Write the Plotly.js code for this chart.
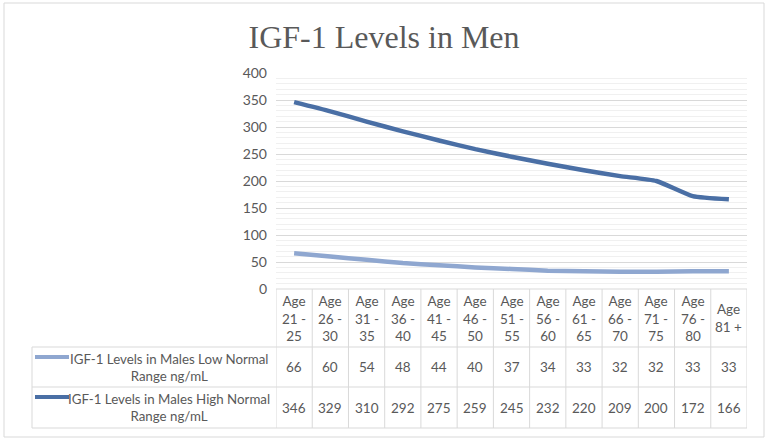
<!DOCTYPE html>
<html>
<head>
<meta charset="utf-8">
<script src="https://cdn.plot.ly/plotly-3.0.1.min.js"></script>
<style>
  html, body { margin: 0; padding: 0; background: #fff; }
  #chart { width: 768px; height: 442px; }
</style>
</head>
<body>
<div id="chart"></div>
<script>
const ageGroups = ['21 - 25', '26 - 30', '31 - 35', '36 - 40', '41 - 45', '46 - 50',
    '51 - 55', '56 - 60', '61 - 65', '66 - 70', '71 - 75', '76 - 80', '81 +'];
const headerLabels = ['Age<br>21 -<br>25', 'Age<br>26 -<br>30', 'Age<br>31 -<br>35', 'Age<br>36 -<br>40',
    'Age<br>41 -<br>45', 'Age<br>46 -<br>50', 'Age<br>51 -<br>55', 'Age<br>56 -<br>60',
    'Age<br>61 -<br>65', 'Age<br>66 -<br>70', 'Age<br>71 -<br>75', 'Age<br>76 -<br>80', 'Age<br>81 +'];
const lowNormal = [66, 60, 54, 48, 44, 40, 37, 34, 33, 32, 32, 33, 33];
const highNormal = [346, 329, 310, 292, 275, 259, 245, 232, 220, 209, 200, 172, 166];
const seriesNames = ['IGF-1 Levels in Males Low Normal<br>Range ng/mL',
    'IGF-1 Levels in Males High Normal<br>Range ng/mL'];
const seriesColors = ['#8fa7d0', '#4a6fa5'];

/**
 * Line chart with an Excel style data table drawn underneath
 */
const FONT = 'Lato, "Open Sans", sans-serif';
const TEXT = '#595959';
const GRID = '#d9d9d9';

// plot area in pixels
const L = 276, R = 747, T = 73, B = 289;
const W = 768, H = 442;
const px = p => (p - L) / (R - L);
const py = p => (B - p) / (B - T);

// table rows (pixels)
const rowTop = [347, 387];
const rowBottom = [387, 428];
const tableLeft = 32;
const tableBottom = 428;

const traces = [lowNormal, highNormal].map((vals, i) => ({
    x: ageGroups,
    y: vals,
    name: seriesNames[i],
    type: 'scatter',
    mode: 'lines',
    line: { color: seriesColors[i], width: 4.5, shape: 'spline', smoothing: 0.5 },
    hoverinfo: 'x+y'
}));

const shapes = [];
const annotations = [];

// outer chart border
shapes.push({
    type: 'rect', xref: 'paper', yref: 'paper',
    x0: px(4), x1: px(764), y0: py(3), y1: py(437),
    line: { color: GRID, width: 1 }
});

// header row top (also the zero line)
shapes.push({
    type: 'line', xref: 'paper', yref: 'paper',
    x0: 0, x1: 1, y0: py(B), y1: py(B),
    line: { color: GRID, width: 1 }
});

// row lines across the table
[rowTop[0], rowTop[1], tableBottom].forEach(y => {
    shapes.push({
        type: 'line', xref: 'paper', yref: 'paper',
        x0: px(tableLeft), x1: 1, y0: py(y), y1: py(y),
        line: { color: GRID, width: 1 }
    });
});

// legend column left edge
shapes.push({
    type: 'line', xref: 'paper', yref: 'paper',
    x0: px(tableLeft), x1: px(tableLeft), y0: py(rowTop[0]), y1: py(tableBottom),
    line: { color: GRID, width: 1 }
});

// column dividers
for (let k = 0; k <= ageGroups.length; k++) {
    shapes.push({
        type: 'line', xref: 'x', yref: 'paper',
        x0: k - 0.5, x1: k - 0.5, y0: py(B), y1: py(tableBottom),
        line: { color: GRID, width: 1 }
    });
}

// header cells
ageGroups.forEach((g, k) => {
    annotations.push({
        x: g, xref: 'x', y: py((B + rowTop[0]) / 2), yref: 'paper',
        text: headerLabels[k], showarrow: false, align: 'center',
        xanchor: 'center', yanchor: 'middle',
        font: { family: FONT, size: 13.5, color: TEXT }
    });
});

// series rows: legend key, name and values
[lowNormal, highNormal].forEach((vals, i) => {
    const mid = (rowTop[i] + rowBottom[i]) / 2;
    shapes.push({
        type: 'line', xref: 'paper', yref: 'paper',
        x0: px(35), x1: px(69), y0: py(rowTop[i] + 10), y1: py(rowTop[i] + 10),
        line: { color: seriesColors[i], width: 4 }
    });
    annotations.push({
        x: px(169), xref: 'paper', y: py(mid), yref: 'paper',
        text: seriesNames[i], showarrow: false, align: 'center',
        xanchor: 'center', yanchor: 'middle',
        font: { family: FONT, size: 13.3, color: TEXT }
    });
    vals.forEach((v, k) => {
        annotations.push({
            x: ageGroups[k], xref: 'x', y: py(mid), yref: 'paper',
            text: String(v), showarrow: false,
            xanchor: 'center', yanchor: 'middle',
            font: { family: FONT, size: 13.5, color: TEXT }
        });
    });
});

const layout = {
    width: W,
    height: H,
    title: {
        text: 'IGF-1 Levels in Men',
        font: { family: '"Liberation Serif", "DejaVu Serif", serif', size: 32, color: TEXT },
        x: 0.5, xref: 'container', xanchor: 'center',
        y: 1 - 37 / H, yref: 'container', yanchor: 'middle'
    },
    margin: { l: L, r: W - R, t: T, b: H - B },
    paper_bgcolor: '#fff',
    plot_bgcolor: '#fff',
    showlegend: false,
    xaxis: {
        type: 'category',
        range: [-0.5, ageGroups.length - 0.5],
        showticklabels: false,
        showgrid: false,
        zeroline: false,
        showline: false,
        ticks: ''
    },
    yaxis: {
        range: [0, 400],
        dtick: 50,
        tick0: 0,
        showgrid: true,
        gridcolor: GRID,
        gridwidth: 1,
        minor: { dtick: 10, showgrid: true, gridcolor: '#f0f0f0', gridwidth: 1 },
        zeroline: false,
        showline: false,
        ticks: '',
        ticklabelstandoff: 8,
        tickfont: { family: FONT, size: 14, color: TEXT }
    },
    shapes: shapes,
    annotations: annotations
};

Plotly.newPlot('chart', traces, layout, { displayModeBar: false, staticPlot: true });
</script>
</body>
</html>
